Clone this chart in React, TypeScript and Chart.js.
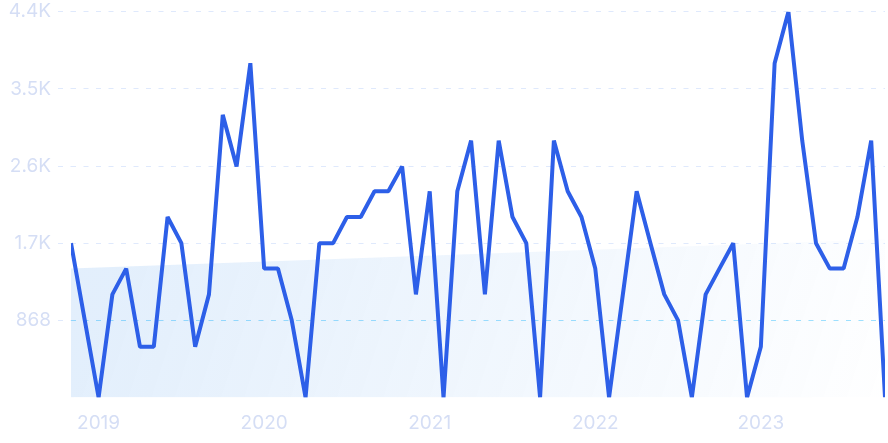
import { useEffect, useRef } from "react"
import { Chart, registerables } from "chart.js"

Chart.register(...registerables)

// One entry per month, Nov 2018 to Oct 2023
const months = [
  "2018-11", "2018-12",
  "2019-01", "2019-02", "2019-03", "2019-04", "2019-05", "2019-06", "2019-07", "2019-08", "2019-09", "2019-10", "2019-11", "2019-12",
  "2020-01", "2020-02", "2020-03", "2020-04", "2020-05", "2020-06", "2020-07", "2020-08", "2020-09", "2020-10", "2020-11", "2020-12",
  "2021-01", "2021-02", "2021-03", "2021-04", "2021-05", "2021-06", "2021-07", "2021-08", "2021-09", "2021-10", "2021-11", "2021-12",
  "2022-01", "2022-02", "2022-03", "2022-04", "2022-05", "2022-06", "2022-07", "2022-08", "2022-09", "2022-10", "2022-11", "2022-12",
  "2023-01", "2023-02", "2023-03", "2023-04", "2023-05", "2023-06", "2023-07", "2023-08", "2023-09", "2023-10",
]

const searches = [
  1736, 868, 0, 1160, 1450, 570, 570, 2030, 1736, 570, 1160, 3180,
  2600, 3760, 1450, 1450, 868, 0, 1736, 1736, 2030, 2030, 2320, 2320,
  2600, 1160, 2320, 0, 2320, 2890, 1160, 2890, 2030, 1736, 0, 2890,
  2320, 2030, 1450, 0, 1160, 2320, 1736, 1160, 868, 0, 1160, 1450,
  1736, 0, 570, 3760, 4340, 2890, 1736, 1450, 1450, 2030, 2890, 0,
]

// Only the two ends of the trend are read, the line spans the gap
const trend: (number | null)[] = months.map(() => null)
trend[0] = 1450
trend[59] = 1780

const yTicks = [0, 868, 1736, 2604, 3472, 4340]
const yTickLabels = ["", "868", "1.7K", "2.6K", "3.5K", "4.4K"]

const gridColor = (ctx: any) => (ctx.tick.value === 868 ? "#9fe1ff" : ctx.tick.value === 0 ? "transparent" : "#dfe9fc")
const tickColor = (ctx: any) => (ctx.tick.value === 0 ? "transparent" : "#dfe9fc")

export default function App() {
  const canvasRef = useRef<HTMLCanvasElement>(null)

  useEffect(() => {
    if (!canvasRef.current) return

    const chart = new Chart(canvasRef.current, {
      type: "line",
      data: {
        labels: months,
        datasets: [
          {
            data: searches,
            borderColor: "#2d5fe8",
            borderWidth: 4,
            borderJoinStyle: "bevel",
            pointRadius: 0,
            tension: 0,
            fill: false,
            clip: 0,
          },
          {
            data: trend,
            spanGaps: true,
            borderWidth: 0,
            pointRadius: 0,
            fill: "origin",
            backgroundColor: (ctx: any) => {
              const area = ctx.chart.chartArea
              if (!area) return "rgba(55,141,234,0.14)"
              // runs diagonally, fading out towards the bottom right corner
              const g = ctx.chart.ctx.createLinearGradient(area.left + 60, area.top + 200, area.right, area.bottom + 60)
              g.addColorStop(0, "rgba(55,141,234,0.14)")
              g.addColorStop(1, "rgba(55,141,234,0)")
              return g
            },
          },
        ],
      },
      options: {
        animation: false,
        responsive: false,
        layout: { padding: { top: 11.7, right: 3, left: 0, bottom: 0 } },
        plugins: { legend: { display: false }, tooltip: { enabled: false } },
        scales: {
          x: {
            afterFit: (scale: any) => {
              scale.height = 45.5
              scale.paddingLeft = 0
              scale.paddingRight = 0
            },
            grid: { display: false },
            border: { display: false },
            ticks: {
              autoSkip: false,
              maxRotation: 0,
              padding: 6,
              color: "#d5def5",
              font: { family: "Inter", size: 19 },
              callback: function (this: any, value: any) {
                const label = this.getLabelForValue(value)
                return label.endsWith("-01") ? label.slice(0, 4) : ""
              },
            },
          },
          y: {
            min: 0,
            max: 4340,
            afterFit: (scale: any) => {
              scale.width = 71
              scale.paddingTop = 0
              scale.paddingBottom = 0
            },
            afterBuildTicks: (scale: any) => {
              scale.ticks = yTicks.map((value) => ({ value }))
            },
            border: { display: false, dash: [5, 7.5] },
            grid: {
              color: gridColor,
              tickColor,
              lineWidth: 1,
              tickLength: 13,
              tickBorderDash: [5, 7.5],
            },
            ticks: {
              padding: 7,
              color: "#d5def5",
              font: { family: "Inter", size: 19 },
              callback: (value: any) => yTickLabels[yTicks.indexOf(value)],
            },
          },
        },
      },
    } as any)

    return () => chart.destroy()
  }, [])

  return (
    <div style={{ position: "absolute", left: 0, top: 0, width: 888, height: 443 }}>
      <canvas ref={canvasRef} width={888} height={443} style={{ display: "block" }}></canvas>
    </div>
  )
}
